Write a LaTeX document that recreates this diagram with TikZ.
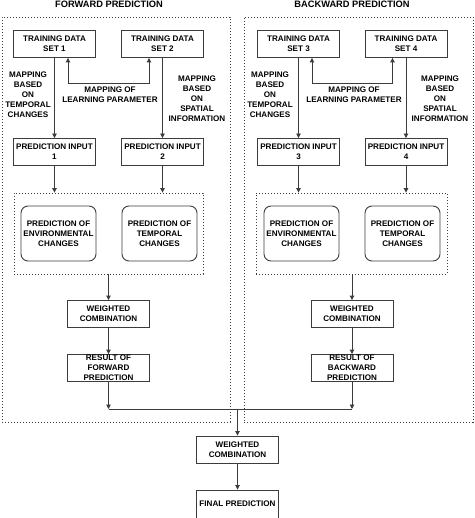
\documentclass[tikz,border=0pt]{standalone}
\usepackage{fontspec}
\setmainfont{Liberation Sans}
\usetikzlibrary{arrows.meta}
\definecolor{ln}{HTML}{3C3C3C}
\tikzset{
  lbl/.style={font=\fontsize{8.1}{9.9}\selectfont\bfseries, align=center, inner sep=0pt},
  rbox/.style={lbl, draw=ln, line width=0.9pt, minimum width=82pt, minimum height=27pt},
  rnd/.style={lbl, draw=ln, line width=0.9pt, rounded corners=7pt, minimum width=75pt, minimum height=55pt},
  dotbox/.style={draw=ln, line width=0.8pt, dash pattern=on 1.2pt off 1.8pt, inner sep=0pt},
  arr/.style={draw=ln, line width=0.9pt, -{Triangle[width=4.5pt,length=4.5pt]}},
  arrb/.style={draw=ln, line width=0.9pt, {Triangle[width=4.5pt,length=4.5pt]}-{Triangle[width=4.5pt,length=4.5pt]}},
  ttl/.style={font=\fontsize{9.3}{11}\selectfont\bfseries, inner sep=0pt}
}
\begin{document}
\begin{tikzpicture}[x=1pt,y=-1pt]
\useasboundingbox (0,0) rectangle (474,518);
% titles
\node[ttl] (tF) at (109,4.5) {FORWARD PREDICTION};
\node[ttl] (tB) at (352,4.5) {BACKWARD PREDICTION};
% outer frames
\node[dotbox, minimum width=228pt, minimum height=405pt] (frL) at (116,219.5) {};
\node[dotbox, minimum width=229pt, minimum height=405pt] (frR) at (358.5,219.5) {};

% ---------- forward ----------
\node[rbox] (tds1) at (54.5,44) {TRAINING DATA\\SET 1};
\node[rbox] (tds2) at (162.5,44) {TRAINING DATA\\SET 2};
\node[rbox] (pi1) at (54.5,152) {PREDICTION INPUT\\1};
\node[rbox] (pi2) at (162.5,152) {PREDICTION INPUT\\2};
\node[dotbox, minimum width=189pt, minimum height=81pt] (in1) at (108.5,233.5) {};
\node[rnd] (env1) at (58.5,233.5) {PREDICTION OF\\ENVIRONMENTAL\\CHANGES};
\node[rnd] (tmp1) at (159.5,233.5) {PREDICTION OF\\TEMPORAL\\CHANGES};
\node[rbox] (wc1) at (108.5,314) {WEIGHTED\\COMBINATION};
\node[rbox] (res1) at (108.5,368) {RESULT OF\\FORWARD\\PREDICTION};

\node[lbl] (lt1) at (28,95) {MAPPING\\BASED\\ON\\TEMPORAL\\CHANGES};
\node[lbl] (ls1) at (197,99) {MAPPING\\BASED\\ON\\SPATIAL\\INFORMATION};
\node[lbl] (lm1) at (110,95) {MAPPING OF\\LEARNING PARAMETER};

\draw[arr] (tds1) -- (pi1);
\draw[arr] (tds2) -- (pi2);
\draw[arrb] ([xshift=13.5pt]tds1.south) -- ++(0,26) -| ([xshift=-13.5pt]tds2.south);
\draw[arr] (pi1) -- (pi1 |- in1.north);
\draw[arr] (pi2) -- (pi2 |- in1.north);
\draw[arr] (in1) -- (wc1);
\draw[arr] (wc1) -- (res1);

% ---------- backward ----------
\node[rbox] (tds3) at (298.5,44) {TRAINING DATA\\SET 3};
\node[rbox] (tds4) at (406,44) {TRAINING DATA\\SET 4};
\node[rbox] (pi3) at (298.5,152) {PREDICTION INPUT\\3};
\node[rbox] (pi4) at (406,152) {PREDICTION INPUT\\4};
\node[dotbox, minimum width=191pt, minimum height=81pt] (in2) at (351.5,233.5) {};
\node[rnd] (env2) at (301.5,233.5) {PREDICTION OF\\ENVIRONMENTAL\\CHANGES};
\node[rnd] (tmp2) at (402.5,233.5) {PREDICTION OF\\TEMPORAL\\CHANGES};
\node[rbox] (wc2) at (352,314) {WEIGHTED\\COMBINATION};
\node[rbox] (res2) at (352,368) {RESULT OF\\BACKWARD\\PREDICTION};

\node[lbl] (lt2) at (270,95) {MAPPING\\BASED\\ON\\TEMPORAL\\CHANGES};
\node[lbl] (ls2) at (440,99) {MAPPING\\BASED\\ON\\SPATIAL\\INFORMATION};
\node[lbl] (lm2) at (354,95) {MAPPING OF\\LEARNING PARAMETER};

\draw[arr] (tds3) -- (pi3);
\draw[arr] (tds4) -- (pi4);
\draw[arrb] ([xshift=13.5pt]tds3.south) -- ++(0,26) -| ([xshift=-13.5pt]tds4.south);
\draw[arr] (pi3) -- (pi3 |- in2.north);
\draw[arr] (pi4) -- (pi4 |- in2.north);
\draw[arr] (in2.south -| wc2) -- (wc2);
\draw[arr] (wc2) -- (res2);

% ---------- merge ----------
\coordinate (m1) at (108.5,409);
\coordinate (m2) at (352,409);
\coordinate (mc) at (237.5,409);
\node[rbox] (fwc) at (237.5,449.5) {WEIGHTED\\COMBINATION};
\node[rbox, minimum height=28pt] (fp) at (237.5,504) {FINAL PREDICTION};
\draw[arr] (res1) -- (m1);
\draw[arr] (res2) -- (m2);
\draw[draw=ln, line width=0.9pt] (m1) -- (m2);
\draw[arr] (mc) -- (fwc);
\draw[arr] (fwc) -- (fp);
\end{tikzpicture}
\end{document}
